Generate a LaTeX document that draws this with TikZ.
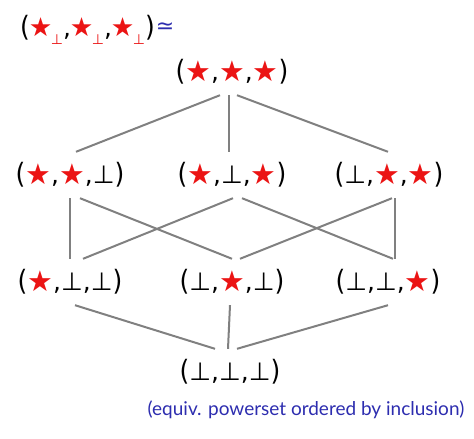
\documentclass[tikz,border=0pt]{standalone}
\usepackage{fontspec}
\setmainfont{DejaVu Sans}
\newfontfamily\capfont{Lato}
\definecolor{starred}{RGB}{235,20,20}
\definecolor{penblue}{RGB}{45,45,175}
\definecolor{edgegray}{RGB}{128,128,128}
\newcommand{\st}{\textcolor{starred}{\raisebox{-0.04em}{\scalebox{1.15}{★}}}}
\newcommand{\bt}{⊥}
\newcommand{\lp}{\raisebox{-0.03em}{\scalebox{1}[1.12]{(}}}
\newcommand{\rp}{\raisebox{-0.03em}{\scalebox{1}[1.12]{)}}}
\newcommand{\stbot}{\textcolor{starred}{\scalebox{1.05}{★}\kern-0.06em\raisebox{-0.32em}{\fontsize{14}{14}\selectfont ⊥}}}
\begin{document}
\begin{tikzpicture}[x=1pt,y=-1pt,
  tuple/.style={inner sep=0pt, minimum height=46pt, font=\fontsize{25}{30}\selectfont},
  edge/.style={draw=edgegray, line width=2pt}]
\useasboundingbox (0,0) rectangle (474,439);
\node[anchor=base west, inner sep=0pt, font=\fontsize{25}{30}\selectfont] (hdr) at (20,36) {\lp\kern-0.04em\stbot,\kern-0.05em\stbot,\kern-0.05em\stbot\rp\kern0.04em\textcolor{penblue}{\fontsize{22}{22}\selectfont\raisebox{0.1em}{≃}}};
\node[tuple] (top) at (232,72) {\lp\st,\st,\st\rp};
\node[tuple] (ml) at (70,175) {\lp\st,\st,\bt\rp};
\node[tuple] (mc) at (232,175) {\lp\st,\bt,\st\rp};
\node[tuple] (mr) at (389,175) {\lp\bt,\st,\st\rp};
\node[tuple] (ll) at (70,282) {\lp\st,\bt,\bt\rp};
\node[tuple] (lc) at (232,282) {\lp\bt,\st,\bt\rp};
\node[tuple] (lr) at (388,282) {\lp\bt,\bt,\st\rp};
\node[tuple] (bot) at (230,372) {\lp\bt,\bt,\bt\rp};
\node[font=\capfont\fontsize{19}{22}\selectfont, text=penblue, inner sep=0pt] (cap) at (306,410) {(equiv. powerset ordered by inclusion)};
% top to middle
\draw[edge] ([xshift=-12pt]top.south) -- ([xshift=6pt]ml.north);
\draw[edge] ([xshift=-3pt]top.south) -- ([xshift=-3pt]mc.north);
\draw[edge] ([xshift=5pt]top.south) -- ([xshift=-1pt]mr.north);
% middle to lower
\draw[edge] (ml.south) -- (ll.north);
\draw[edge] ([xshift=10pt]ml.south) -- (lc.north);
\draw[edge] ([xshift=1pt]mc.south) -- ([xshift=13pt]ll.north);
\draw[edge] ([xshift=10pt]mc.south) -- ([xshift=5pt]lr.north);
\draw[edge] ([xshift=3pt]mr.south) -- ([xshift=8pt]lc.north);
\draw[edge] ([xshift=6pt]mr.south) -- ([xshift=7pt]lr.north);
% lower to bottom
\draw[edge] ([xshift=5pt]ll.south) -- ([xshift=-15pt]bot.north);
\draw[edge] ([xshift=-2pt]lc.south) -- ([xshift=-2pt]bot.north);
\draw[edge] (lr.south) -- ([xshift=7pt]bot.north);
\end{tikzpicture}
\end{document}
